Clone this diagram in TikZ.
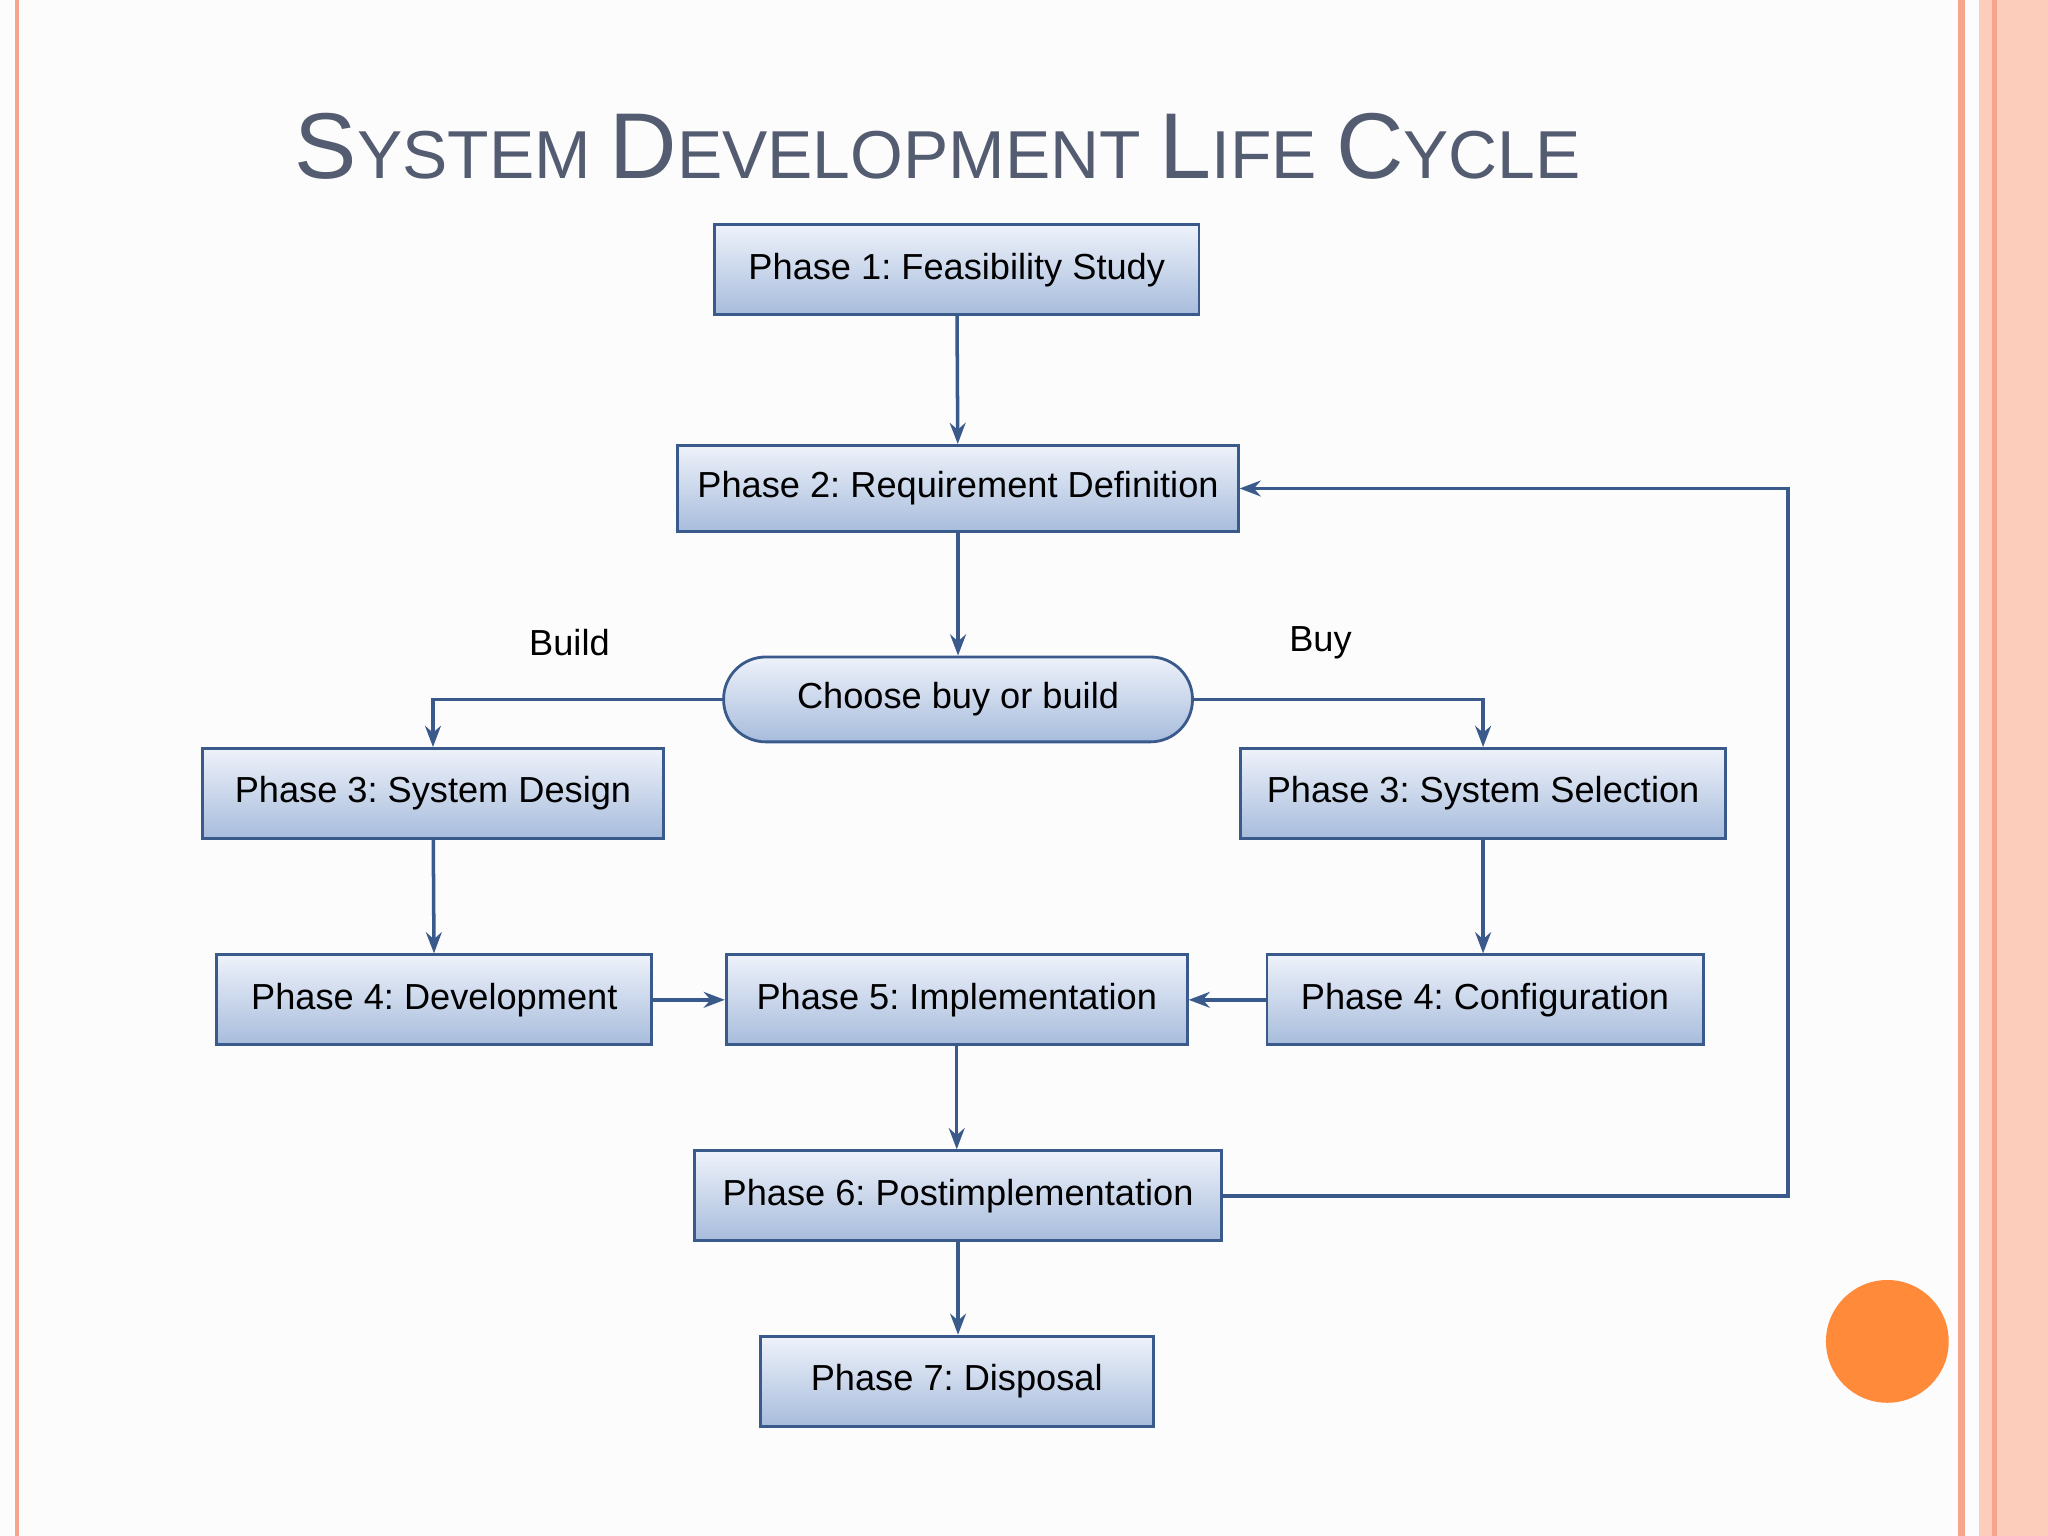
\documentclass[tikz,border=0pt]{standalone}
\usepackage{fontspec}
\setmainfont{Liberation Sans}
\usetikzlibrary{arrows.meta,shadings}
\definecolor{boxline}{HTML}{3A5A8C}
\definecolor{boxtop}{HTML}{EEF2FA}
\definecolor{boxbot}{HTML}{A7BCDC}
\definecolor{titlecol}{HTML}{535C70}
\definecolor{rim}{HTML}{F6A48C}
\definecolor{band}{HTML}{FCCDBB}
\definecolor{dot}{HTML}{FF8A3A}
\frenchspacing
\begin{document}
\begin{tikzpicture}[x=0.013061cm,y=-0.013061cm,
  phase/.style={draw=boxline,line width=0.8pt,top color=boxtop,bottom color=boxbot,
    minimum height={69*0.013061cm},inner sep=0pt,font=\fontsize{10.3}{12}\selectfont},
  choice/.style={phase,rounded corners=12pt},
  link/.style={draw=boxline,line width=1pt,-{Stealth[length=6pt,width=4.5pt]}}]
\useasboundingbox (0,0) rectangle (1568,1176);
\fill[white!98!gray] (0,0) rectangle (1568,1176);
% slide frame
\draw[rim,line width=1.2pt] (13,0) -- (13,1176);
\fill[band] (1515,0) rectangle (1568,1176);
\draw[rim,line width=2pt] (1502,0) -- (1502,1176);
\draw[rim,line width=1.2pt] (1527,0) -- (1527,1176);
\fill[dot] (1445,1027) circle (47);
% title
\node[text=titlecol,font=\fontsize{19.3}{22}\selectfont] (title) at (718,112)
  {{\fontsize{26.6}{28}\selectfont S}YSTEM {\fontsize{26.6}{28}\selectfont D}EVELOPMENT
   {\fontsize{26.6}{28}\selectfont L}IFE {\fontsize{26.6}{28}\selectfont C}YCLE};
% phases
\node[phase,minimum width={371*0.013061cm}] (p1) at (732.5,206.5) {Phase 1: Feasibility Study};
\node[phase,minimum width={429*0.013061cm},minimum height={66*0.013061cm}] (p2) at (733.5,374) {Phase 2: Requirement Definition};
\node[choice,minimum width={359*0.013061cm},minimum height={65*0.013061cm}] (choose) at (733.5,535.5) {Choose buy or build};
\node[phase,minimum width={353*0.013061cm}] (design) at (331.5,607.5) {Phase 3: System Design};
\node[phase,minimum width={371*0.013061cm}] (select) at (1135.5,607.5) {Phase 3: System Selection};
\node[phase,minimum width={333*0.013061cm}] (dev) at (332.5,765.5) {Phase 4: Development};
\node[phase,minimum width={353*0.013061cm}] (impl) at (732.5,765.5) {Phase 5: Implementation};
\node[phase,minimum width={334*0.013061cm}] (config) at (1137,765.5) {Phase 4: Configuration};
\node[phase,minimum width={403*0.013061cm}] (post) at (733.5,915.5) {Phase 6: Postimplementation};
\node[phase,minimum width={301*0.013061cm}] (disp) at (732.5,1057.5) {Phase 7: Disposal};
\node[font=\fontsize{10.3}{12}\selectfont] (build) at (436,492) {Build};
\node[font=\fontsize{10.3}{12}\selectfont] (buy) at (1011,492) {Buy};
\coordinate (loop) at (1369,0);
% connectors
\path[link] (p1) -- (p2);
\path[link] (p2) -- (choose);
\path[link] (choose.west) -| (design.north);
\path[link] (choose.east) -| (select.north);
\path[link] (design) -- (dev);
\path[link] (select) -- (select |- config.north);
\path[link] (dev) -- (impl);
\path[link] (config) -- (impl);
\path[link] (impl) -- (impl |- post.north);
\path[link] (post) -- (post |- disp.north);
\path[link] (post.east) -| (loop |- p2.east) -- (p2.east);
\end{tikzpicture}
\end{document}
